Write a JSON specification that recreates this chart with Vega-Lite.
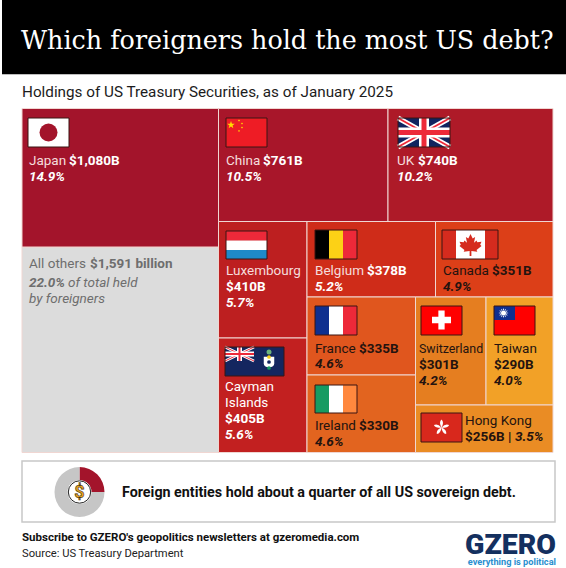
{
"$schema":"https://vega.github.io/schema/vega-lite/v6.json",
"width":566,"height":568,"padding":0,
"autosize":{"type":"fit","contains":"padding"},
"background":"#ffffff",
"view":{"stroke":null,"fill":null},
"config":{"axis":{"domain":false,"grid":false,"ticks":false,"labels":false,"title":null}},
"datasets":{
"cells":[
{"name":"All others","holdings":1591,"share":22.0,"tone":"grey","x0":22,"x1":218.5,"y0":247,"y1":452.5},
{"name":"Japan","holdings":1080,"share":14.9,"tone":"japan","x0":22,"x1":218.5,"y0":108.5,"y1":247},
{"name":"China","holdings":761,"share":10.5,"tone":"china","x0":218.5,"x1":388,"y0":108.5,"y1":221.5},
{"name":"UK","holdings":740,"share":10.2,"tone":"uk","x0":388,"x1":553,"y0":108.5,"y1":221.5},
{"name":"Luxembourg","holdings":410,"share":5.7,"tone":"lux","x0":218.5,"x1":307,"y0":221.5,"y1":338},
{"name":"Cayman Islands","holdings":405,"share":5.6,"tone":"cayman","x0":218.5,"x1":307,"y0":338,"y1":452.5},
{"name":"Belgium","holdings":378,"share":5.2,"tone":"belgium","x0":307,"x1":435.5,"y0":221.5,"y1":297},
{"name":"Canada","holdings":351,"share":4.9,"tone":"canada","x0":435.5,"x1":553,"y0":221.5,"y1":297},
{"name":"France","holdings":335,"share":4.6,"tone":"france","x0":307,"x1":415.5,"y0":297,"y1":375},
{"name":"Ireland","holdings":330,"share":4.6,"tone":"ireland","x0":307,"x1":415.5,"y0":375,"y1":452.5},
{"name":"Switzerland","holdings":301,"share":4.2,"tone":"swiss","x0":415.5,"x1":486,"y0":297,"y1":405},
{"name":"Taiwan","holdings":290,"share":4.0,"tone":"taiwan","x0":486,"x1":553,"y0":297,"y1":405},
{"name":"Hong Kong","holdings":256,"share":3.5,"tone":"hk","x0":415.5,"x1":553,"y0":405,"y1":452.5}
],
"furniture":[
{"part":"band","tone":"black","x0":2,"x1":566,"y0":0,"y1":74},
{"part":"band line","tone":"line","x0":2,"x1":566,"y0":74,"y1":75}
],
"flagBase":[
{"flag":"Japan","tone":"white","x0":28,"x1":69,"y0":118,"y1":147},
{"flag":"China","tone":"fRed","x0":226,"x1":267,"y0":118,"y1":147},
{"flag":"UK","tone":"fNavy","x0":398,"x1":450,"y0":118,"y1":147},
{"flag":"Luxembourg","tone":"fRed2","x0":226,"x1":267,"y0":231,"y1":240.5},
{"flag":"Luxembourg","tone":"white","x0":226,"x1":267,"y0":240.5,"y1":250},
{"flag":"Luxembourg","tone":"fBlue","x0":226,"x1":267,"y0":250,"y1":259},
{"flag":"Belgium","tone":"black","x0":315,"x1":329,"y0":230,"y1":259},
{"flag":"Belgium","tone":"fYellow","x0":329,"x1":343,"y0":230,"y1":259},
{"flag":"Belgium","tone":"fRed2","x0":343,"x1":357,"y0":230,"y1":259},
{"flag":"Canada","tone":"fCanada","x0":442,"x1":456,"y0":230,"y1":259},
{"flag":"Canada","tone":"white","x0":456,"x1":485,"y0":230,"y1":259},
{"flag":"Canada","tone":"fCanada","x0":485,"x1":498,"y0":230,"y1":259},
{"flag":"France","tone":"fNavy2","x0":315,"x1":329,"y0":306,"y1":335},
{"flag":"France","tone":"white","x0":329,"x1":343,"y0":306,"y1":335},
{"flag":"France","tone":"fRed2","x0":343,"x1":357,"y0":306,"y1":335},
{"flag":"Ireland","tone":"fGreen","x0":315,"x1":329,"y0":385,"y1":413},
{"flag":"Ireland","tone":"white","x0":329,"x1":343,"y0":385,"y1":413},
{"flag":"Ireland","tone":"fOrange","x0":343,"x1":357,"y0":385,"y1":413},
{"flag":"Switzerland","tone":"fPure","x0":421,"x1":462,"y0":306,"y1":335},
{"flag":"Taiwan","tone":"fPure","x0":494,"x1":535,"y0":306,"y1":335},
{"flag":"Taiwan","tone":"fNavy2","x0":494,"x1":515,"y0":306,"y1":320},
{"flag":"Hong Kong","tone":"fHk","x0":421,"x1":462,"y0":413,"y1":442},
{"flag":"Cayman Islands","tone":"fNavy3","x0":225,"x1":284,"y0":347,"y1":376}
],
"jackDiagonals":[
{"flag":"UK","x0":398,"x1":450,"y0":118,"y1":147},
{"flag":"UK","x0":398,"x1":450,"y0":147,"y1":118},
{"flag":"Cayman Islands","x0":225,"x1":254,"y0":347,"y1":361},
{"flag":"Cayman Islands","x0":225,"x1":254,"y0":361,"y1":347}
],
"jackCross":[
{"flag":"UK","tone":"white","x0":419,"x1":429,"y0":118,"y1":147},
{"flag":"UK","tone":"white","x0":398,"x1":450,"y0":127.5,"y1":137.5},
{"flag":"UK","tone":"fRed2","x0":421.5,"x1":426.5,"y0":118,"y1":147},
{"flag":"UK","tone":"fRed2","x0":398,"x1":450,"y0":130,"y1":135},
{"flag":"Cayman Islands","tone":"white","x0":237,"x1":242,"y0":347,"y1":361},
{"flag":"Cayman Islands","tone":"white","x0":225,"x1":254,"y0":351.5,"y1":356.5},
{"flag":"Cayman Islands","tone":"fRed2","x0":238.5,"x1":240.5,"y0":347,"y1":361},
{"flag":"Cayman Islands","tone":"fRed2","x0":225,"x1":254,"y0":353,"y1":355}
],
"frames":[
{"flag":"Japan","x0":28,"x1":69,"y0":118,"y1":147},
{"flag":"China","x0":226,"x1":267,"y0":118,"y1":147},
{"flag":"UK","x0":398,"x1":450,"y0":118,"y1":147},
{"flag":"Luxembourg","x0":226,"x1":267,"y0":231,"y1":259},
{"flag":"Belgium","x0":315,"x1":357,"y0":230,"y1":259},
{"flag":"Canada","x0":442,"x1":498,"y0":230,"y1":259},
{"flag":"France","x0":315,"x1":357,"y0":306,"y1":335},
{"flag":"Ireland","x0":315,"x1":357,"y0":385,"y1":413},
{"flag":"Switzerland","x0":421,"x1":462,"y0":306,"y1":335},
{"flag":"Taiwan","x0":494,"x1":535,"y0":306,"y1":335},
{"flag":"Hong Kong","x0":421,"x1":462,"y0":413,"y1":442},
{"flag":"Cayman Islands","x0":225,"x1":284,"y0":347,"y1":376}
],
"emblems":[
{"emblem":"disc18","tone":"japan","x":48.5,"y":132.5},
{"emblem":"star8","tone":"fYellow2","x":231,"y":125},
{"emblem":"star2","tone":"fYellow2","x":239,"y":120.5},
{"emblem":"star2","tone":"fYellow2","x":242,"y":123.5},
{"emblem":"star2","tone":"fYellow2","x":242,"y":127.5},
{"emblem":"star2","tone":"fYellow2","x":239,"y":131},
{"emblem":"maple","tone":"fCanada","x":470.5,"y":245},
{"emblem":"cross","tone":"white","x":441.5,"y":320},
{"emblem":"sun","tone":"white","x":503.5,"y":313},
{"emblem":"disc6","tone":"fNavy2","x":503.5,"y":313},
{"emblem":"disc5","tone":"white","x":503.5,"y":313},
{"emblem":"flower","tone":"white","x":441.5,"y":427.5},
{"emblem":"shield","tone":"white","x":269,"y":362},
{"emblem":"disc5","tone":"crest","x":269,"y":352},
{"emblem":"disc4","tone":"fYellow","x":269,"y":357},
{"emblem":"disc4","tone":"fGreen","x":269,"y":368},
{"emblem":"disc4","tone":"fNavy3","x":269,"y":362}
],
"labels":[
{"text":"Japan","face":"regular","tone":"soft","x":29,"y":165},
{"text":"$1,080B","face":"bold","tone":"white","x":69,"y":165},
{"text":"14.9%","face":"bolditalic","tone":"white","x":29,"y":181},
{"text":"China","face":"regular","tone":"soft","x":226,"y":165},
{"text":"$761B","face":"bold","tone":"white","x":263,"y":165},
{"text":"10.5%","face":"bolditalic","tone":"white","x":226,"y":181},
{"text":"UK","face":"regular","tone":"soft","x":397,"y":165},
{"text":"$740B","face":"bold","tone":"white","x":418,"y":165},
{"text":"10.2%","face":"bolditalic","tone":"white","x":397,"y":181},
{"text":"Luxembourg","face":"regular","tone":"soft","x":226,"y":275},
{"text":"$410B","face":"bold","tone":"white","x":226,"y":291},
{"text":"5.7%","face":"bolditalic","tone":"white","x":226,"y":307},
{"text":"Belgium","face":"regular","tone":"soft","x":315,"y":275},
{"text":"$378B","face":"bold","tone":"white","x":367,"y":275},
{"text":"5.2%","face":"bolditalic","tone":"white","x":315,"y":291},
{"text":"Canada","face":"regular","tone":"ink","x":443,"y":275},
{"text":"$351B","face":"bold","tone":"ink","x":492,"y":275},
{"text":"4.9%","face":"bolditalic","tone":"ink","x":443,"y":291},
{"text":"France","face":"regular","tone":"ink","x":315,"y":353},
{"text":"$335B","face":"bold","tone":"ink","x":359,"y":353},
{"text":"4.6%","face":"bolditalic","tone":"ink","x":315,"y":368},
{"text":"Ireland","face":"regular","tone":"ink","x":315,"y":430},
{"text":"$330B","face":"bold","tone":"ink","x":359,"y":430},
{"text":"4.6%","face":"bolditalic","tone":"ink","x":315,"y":446},
{"text":"Switzerland","face":"regular","tone":"ink","x":419,"y":353},
{"text":"$301B","face":"bold","tone":"ink","x":419,"y":369},
{"text":"4.2%","face":"bolditalic","tone":"ink","x":419,"y":385},
{"text":"Taiwan","face":"regular","tone":"ink","x":494,"y":353},
{"text":"$290B","face":"bold","tone":"ink","x":494,"y":369},
{"text":"4.0%","face":"bolditalic","tone":"ink","x":494,"y":385},
{"text":"Hong Kong","face":"regular","tone":"ink","x":465,"y":425},
{"text":"$256B | ","face":"bold","tone":"ink","x":465,"y":441},
{"text":"3.5%","face":"bolditalic","tone":"ink","x":515,"y":441},
{"text":"Cayman","face":"regular","tone":"white","x":225,"y":391},
{"text":"Islands","face":"regular","tone":"white","x":225,"y":407},
{"text":"$405B","face":"bold","tone":"white","x":225,"y":423},
{"text":"5.6%","face":"bolditalic","tone":"white","x":225,"y":439},
{"text":"All others","face":"regular","tone":"greyText","x":29,"y":268},
{"text":"$1,591 billion","face":"bold","tone":"greyText","x":90,"y":268},
{"text":"22.0%","face":"bolditalic","tone":"greyText","x":29,"y":287},
{"text":"of total held","face":"italic","tone":"greyText","x":68,"y":287},
{"text":"by foreigners","face":"italic","tone":"greyText","x":29,"y":303}
]
},
"encoding":{"color":{"field":"tone","type":"nominal","legend":null,"scale":{
"domain":["black","line","grey","japan","china","uk","lux","cayman","belgium","canada","france","ireland","swiss","taiwan","hk","white","soft","ink","greyText","fRed","fRed2","fNavy","fNavy2","fNavy3","fBlue","fYellow","fYellow2","fCanada","fGreen","fOrange","fPure","fHk","crest","donutGrey"],
"range":["#000000","#bdbdbd","#dcdcdc","#a3142b","#a8162a","#ae1a28","#bd1f20","#c22020","#cf2c19","#dc3f18","#e0561e","#e2641f","#e57e20","#f2a127","#ea8c24","#ffffff","#f5dcdc","#24130f","#6e6e6e","#ee1c25","#ed2939","#10245f","#0f2f8f","#14265f","#1f8ac9","#fcd116","#ffde00","#d52b1e","#169b62","#ff883e","#ff0000","#d8281c","#6db37c","#c6c6c6"]
}}},
"layer":[
{"data":{"name":"furniture"},"mark":{"type":"rect"},"encoding":{
"x":{"field":"x0","type":"quantitative","axis":null,"scale":{"domain":[0,566],"nice":false,"zero":false}},
"x2":{"field":"x1"},
"y":{"field":"y0","type":"quantitative","axis":null,"scale":{"domain":[0,568],"nice":false,"zero":false,"reverse":true}},
"y2":{"field":"y1"}}},
{"data":{"name":"cells"},"mark":{"type":"rect","stroke":"#f0d6d2","strokeWidth":1},"encoding":{
"x":{"field":"x0","type":"quantitative"},"x2":{"field":"x1"},"y":{"field":"y0","type":"quantitative"},"y2":{"field":"y1"}}},
{"data":{"name":"flagBase"},"mark":{"type":"rect"},"encoding":{
"x":{"field":"x0","type":"quantitative"},"x2":{"field":"x1"},"y":{"field":"y0","type":"quantitative"},"y2":{"field":"y1"}}},
{"data":{"name":"jackDiagonals"},"transform":[{"filter":"datum.flag=='UK'"}],"mark":{"type":"rule","strokeWidth":5},"encoding":{
"color":{"value":"#ffffff"},"x":{"field":"x0","type":"quantitative"},"x2":{"field":"x1"},"y":{"field":"y0","type":"quantitative"},"y2":{"field":"y1"}}},
{"data":{"name":"jackDiagonals"},"transform":[{"filter":"datum.flag=='UK'"}],"mark":{"type":"rule","strokeWidth":1.8},"encoding":{
"color":{"value":"#ed2939"},"x":{"field":"x0","type":"quantitative"},"x2":{"field":"x1"},"y":{"field":"y0","type":"quantitative"},"y2":{"field":"y1"}}},
{"data":{"name":"jackDiagonals"},"transform":[{"filter":"datum.flag!='UK'"}],"mark":{"type":"rule","strokeWidth":2.6},"encoding":{
"color":{"value":"#ffffff"},"x":{"field":"x0","type":"quantitative"},"x2":{"field":"x1"},"y":{"field":"y0","type":"quantitative"},"y2":{"field":"y1"}}},
{"data":{"name":"jackDiagonals"},"transform":[{"filter":"datum.flag!='UK'"}],"mark":{"type":"rule","strokeWidth":1},"encoding":{
"color":{"value":"#ed2939"},"x":{"field":"x0","type":"quantitative"},"x2":{"field":"x1"},"y":{"field":"y0","type":"quantitative"},"y2":{"field":"y1"}}},
{"data":{"name":"jackCross"},"mark":{"type":"rect"},"encoding":{
"x":{"field":"x0","type":"quantitative"},"x2":{"field":"x1"},"y":{"field":"y0","type":"quantitative"},"y2":{"field":"y1"}}},
{"data":{"name":"emblems"},"mark":{"type":"point","filled":true,"opacity":1},"encoding":{
"x":{"field":"x","type":"quantitative"},"y":{"field":"y","type":"quantitative"},
"shape":{"field":"emblem","type":"nominal","legend":null,"scale":{
"domain":["disc18","disc6","disc5","disc4","star8","star2","maple","cross","sun","flower","shield"],
"range":["circle","circle","circle","circle",
"M0,-1L0.235,-0.324L0.951,-0.309L0.38,0.124L0.588,0.809L0,0.4L-0.588,0.809L-0.38,0.124L-0.951,-0.309L-0.235,-0.324Z",
"M0,-1L0.235,-0.324L0.951,-0.309L0.38,0.124L0.588,0.809L0,0.4L-0.588,0.809L-0.38,0.124L-0.951,-0.309L-0.235,-0.324Z",
"M0,-1L0.2,-0.6L0.42,-0.72L0.32,-0.2L0.55,-0.42L0.62,-0.25L1,-0.3L0.88,-0.02L1,0.08L0.55,0.45L0.62,0.62L0.08,0.55L0.08,1L-0.08,1L-0.08,0.55L-0.62,0.62L-0.55,0.45L-1,0.08L-0.88,-0.02L-1,-0.3L-0.62,-0.25L-0.55,-0.42L-0.32,-0.2L-0.42,-0.72L-0.2,-0.6Z",
"M-0.33,-1H0.33V-0.33H1V0.33H0.33V1H-0.33V0.33H-1V-0.33H-0.33Z",
"M0,-1L.142,-.531L.5,-.866L.389,-.389L.866,-.5L.531,-.142L1,0L.531,.142L.866,.5L.389,.389L.5,.866L.142,.531L0,1L-.142,.531L-.5,.866L-.389,.389L-.866,.5L-.531,.142L-1,0L-.531,-.142L-.866,-.5L-.389,-.389L-.5,-.866L-.142,-.531Z",
"M0,0Q-.375,-.65 0,-1Q.375,-.65 0,0Q.502,-.557 .951,-.309Q.734,.156 0,0Q.685,.305 .588,.809Q.078,.746 0,0Q-.078,.746 -.588,.809Q-.685,.305 0,0Q-.734,.156 -.951,-.309Q-.502,-.557 0,0Z",
"M-1,-1H1V0.3Q1,1 0,1Q-1,1 -1,.3Z"]}},
"size":{"field":"emblem","type":"ordinal","legend":null,"scale":{"type":"ordinal",
"domain":["disc18","disc6","disc5","disc4","star8","star2","maple","cross","sun","flower","shield"],
"range":[324,36,25,14,64,6,484,361,100,256,110]}}}},
{"data":{"name":"frames"},"mark":{"type":"rect","filled":false,"strokeWidth":1},"encoding":{
"color":{"value":"#3a1512"},"x":{"field":"x0","type":"quantitative"},"x2":{"field":"x1"},"y":{"field":"y0","type":"quantitative"},"y2":{"field":"y1"}}},
{"data":{"name":"labels"},"mark":{"type":"text","font":"Roboto","align":"left","baseline":"alphabetic",
"fontSize":{"expr":"datum.text=='Switzerland'?12.4:13.5"},
"fontWeight":{"expr":"indexof(datum.face,'bold')>=0?'bold':'normal'"},
"fontStyle":{"expr":"indexof(datum.face,'italic')>=0?'italic':'normal'"}},
"encoding":{"x":{"field":"x","type":"quantitative"},"y":{"field":"y","type":"quantitative"},"text":{"field":"text"}}},
{"data":{"values":[{"text":"Which foreigners hold the most US debt?","tone":"white","x":21,"y":49}]},"mark":{"type":"text","font":"DejaVu Serif","fontSize":25.4,"align":"left","baseline":"alphabetic"},
"encoding":{"x":{"field":"x","type":"quantitative"},"y":{"field":"y","type":"quantitative"},"text":{"field":"text"}}},
{"data":{"values":[{"text":"Holdings of US Treasury Securities, as of January 2025","tone":"ink","x":22,"y":97}]},"mark":{"type":"text","font":"Roboto","fontSize":15.25,"align":"left","baseline":"alphabetic"},
"encoding":{"color":{"value":"#1c1c1c"},"x":{"field":"x","type":"quantitative"},"y":{"field":"y","type":"quantitative"},"text":{"field":"text"}}},
{"data":{"values":[{"part":"callout","x0":22,"x1":555,"y0":461,"y1":522}]},"mark":{"type":"rect","filled":false,"strokeWidth":1.5},"encoding":{
"color":{"value":"#c8c8c8"},"x":{"field":"x0","type":"quantitative"},"x2":{"field":"x1"},"y":{"field":"y0","type":"quantitative"},"y2":{"field":"y1"}}},
{"data":{"values":[{"part":"Foreign","share":25,"rank":1,"tone":"japan","x":79.5,"y":492},{"part":"Domestic","share":75,"rank":2,"tone":"donutGrey","x":79.5,"y":492}]},
"mark":{"type":"arc","radius":25,"radius2":12},
"encoding":{"theta":{"field":"share","type":"quantitative","stack":true},"order":{"field":"rank"},"x":{"field":"x","type":"quantitative"},"y":{"field":"y","type":"quantitative"}}},
{"data":{"values":[{"part":"coin","x":79.5,"y":492}]},"mark":{"type":"point","shape":"circle","filled":true,"size":500,"opacity":1,"stroke":"#222222","strokeWidth":1},
"encoding":{"color":{"value":"#ffffff"},"x":{"field":"x","type":"quantitative"},"y":{"field":"y","type":"quantitative"}}},
{"data":{"values":[{"text":"$","x":79.5,"y":498}]},"mark":{"type":"text","font":"Roboto","fontWeight":"bold","fontSize":18,"align":"center","baseline":"alphabetic","stroke":"#3a2a10","strokeWidth":0.6},
"encoding":{"color":{"value":"#e8a31e"},"x":{"field":"x","type":"quantitative"},"y":{"field":"y","type":"quantitative"},"text":{"field":"text"}}},
{"data":{"values":[{"text":"Foreign entities hold about a quarter of all US sovereign debt.","x":122,"y":497}]},"mark":{"type":"text","font":"Roboto","fontWeight":"bold","fontSize":14.3,"align":"left","baseline":"alphabetic"},
"encoding":{"color":{"value":"#111111"},"x":{"field":"x","type":"quantitative"},"y":{"field":"y","type":"quantitative"},"text":{"field":"text"}}},
{"data":{"values":[{"text":"Subscribe to GZERO's geopolitics newsletters at gzeromedia.com","x":22,"y":541}]},"mark":{"type":"text","font":"Roboto","fontWeight":"bold","fontSize":11.5,"align":"left","baseline":"alphabetic"},
"encoding":{"color":{"value":"#111111"},"x":{"field":"x","type":"quantitative"},"y":{"field":"y","type":"quantitative"},"text":{"field":"text"}}},
{"data":{"values":[{"text":"Source: US Treasury Department","x":22,"y":557}]},"mark":{"type":"text","font":"Roboto","fontSize":11.2,"align":"left","baseline":"alphabetic"},
"encoding":{"color":{"value":"#222222"},"x":{"field":"x","type":"quantitative"},"y":{"field":"y","type":"quantitative"},"text":{"field":"text"}}},
{"data":{"values":[{"text":"GZERO","x":556,"y":554}]},"mark":{"type":"text","font":"Roboto","fontWeight":900,"fontSize":28.5,"align":"right","baseline":"alphabetic"},
"encoding":{"color":{"value":"#14305f"},"x":{"field":"x","type":"quantitative"},"y":{"field":"y","type":"quantitative"},"text":{"field":"text"}}},
{"data":{"values":[{"text":"everything is political","x":556,"y":565}]},"mark":{"type":"text","font":"Roboto","fontWeight":"bold","fontSize":9.2,"align":"right","baseline":"alphabetic"},
"encoding":{"color":{"value":"#2a8fd0"},"x":{"field":"x","type":"quantitative"},"y":{"field":"y","type":"quantitative"},"text":{"field":"text"}}}
]
}
